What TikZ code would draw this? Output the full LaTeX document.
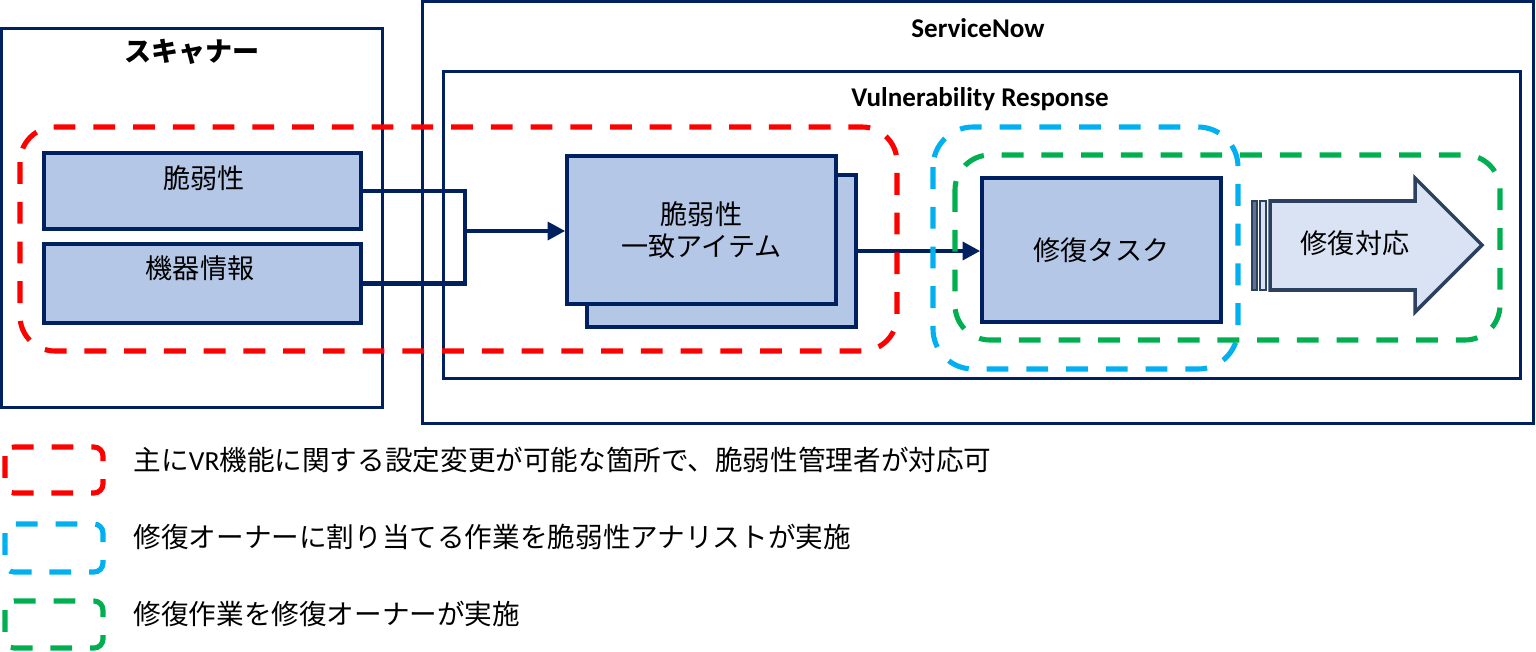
\documentclass[tikz,border=0pt]{standalone}
\usepackage{fontspec}
\setmainfont{Carlito}
\newfontfamily\jp{Noto Sans CJK JP}
\usetikzlibrary{arrows.meta}
\definecolor{navy}{HTML}{002060}
\definecolor{boxblue}{HTML}{B4C7E7}
\definecolor{arrowfill}{HTML}{DAE3F3}
\definecolor{arrowline}{HTML}{2C4160}
\definecolor{zonered}{HTML}{FF0000}
\definecolor{zoneblue}{HTML}{00B0F0}
\definecolor{zonegreen}{HTML}{00B050}
\tikzset{
  frame/.style={draw=navy,line width=0.9pt,minimum width=#1},
  box/.style={draw=navy,fill=boxblue,line width=0.95pt,inner sep=0pt},
  title/.style={font=\fontsize{7.7}{9}\selectfont\bfseries},
  txt/.style={font=\jp\fontsize{7.7}{9.1}\selectfont,align=center,inner sep=0pt},
  legtxt/.style={font=\jp\fontsize{7.85}{9}\selectfont,anchor=west,inner sep=0pt},
  conn/.style={draw=navy,line width=1.35pt},
  tip/.style={-{Triangle[length=5pt,width=5pt]}},
  zone/.style={line width=1.45pt,dash pattern=on 6.2pt off 5.1pt,rounded corners=#1},
}
\begin{document}
\begin{tikzpicture}[x=0.01cm,y=-0.01cm]
  \useasboundingbox (0,0) rectangle (1536,651);
  \node[frame=3.80cm,minimum height=3.78cm] (scanner) at (192,218) {};
  \node[title] (scannertitle) at (192,52) {\jp スキャナー};
  \node[frame=11.10cm,minimum height=4.21cm] (snow) at (978,212.5) {};
  \node[title] (snowtitle) at (978,28) {ServiceNow};
  \node[frame=10.76cm,minimum height=3.06cm] (vr) at (982,225) {};
  \node[title] (vrtitle) at (980,99) {Vulnerability Response};

  \node[box,minimum width=3.17cm,minimum height=0.76cm] (vuln) at (202.5,191) {};
  \node[txt] (vulntxt) at (204,178) {脆弱性};
  \node[box,minimum width=3.17cm,minimum height=0.79cm] (device) at (202.5,283.5) {};
  \node[txt] (devicetxt) at (200,268) {機器情報};

  \node[box,minimum width=2.69cm,minimum height=1.52cm] (matchback) at (721.5,251) {};
  \node[box,minimum width=2.69cm,minimum height=1.48cm,txt] (match) at (701.5,230) {脆弱性\\一致アイテム};
  \node[box,minimum width=2.39cm,minimum height=1.44cm,txt] (task) at (1101.5,250) {修復タスク};

  \filldraw[draw=arrowline,fill=arrowline!70!arrowfill,line width=0.8pt] (1252,201) rectangle (1257,290);
  \filldraw[draw=arrowline,fill=arrowfill,line width=0.8pt] (1260,201) rectangle (1266,290);
  \filldraw[draw=arrowline,fill=arrowfill,line width=1pt,line join=miter]
    (1270,201) -- (1415,201) -- (1415,178) -- (1482,245) -- (1415,312)
    -- (1415,290) -- (1270,290) -- cycle;
  \node[txt] (fix) at (1355,243) {修復対応};

  \coordinate (join) at (465,231);
  \draw[conn] (vuln.east) -| (join);
  \draw[conn] (device.east) -| (join);
  \draw[conn,tip] (join) -- (match.west |- join);
  \draw[conn,tip] (matchback.east) -- (task.west |- matchback.east);

  \draw[zone=0.35cm,zonered] (20,127) rectangle (897,351);
  \draw[zone=0.4cm,zoneblue] (933,127) rectangle (1238,369);
  \draw[zone=0.35cm,zonegreen] (955,155) rectangle (1500,340);

  \draw[zone=0.09cm,zonered] (5,447) rectangle (103,493);
  \draw[zone=0.09cm,zoneblue] (5,524) rectangle (103,572);
  \draw[zone=0.09cm,zonegreen] (5,601) rectangle (103,648);
  \node[legtxt] (legred) at (133,460) {主に\rmfamily VR\jp 機能に関する設定変更が可能な箇所で、脆弱性管理者が対応可};
  \node[legtxt] (legblue) at (133,537) {修復オーナーに割り当てる作業を脆弱性アナリストが実施};
  \node[legtxt] (leggreen) at (133,614) {修復作業を修復オーナーが実施};
\end{tikzpicture}
\end{document}
